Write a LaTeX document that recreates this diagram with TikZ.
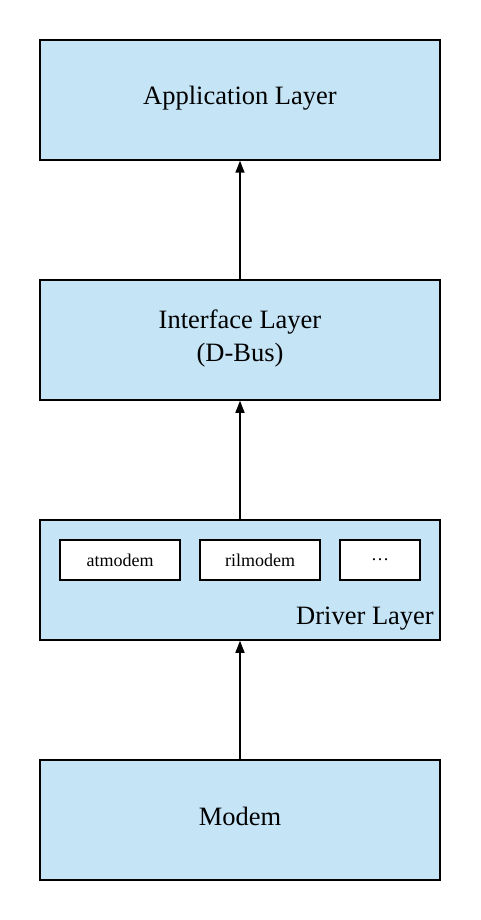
\documentclass[tikz,border=0pt]{standalone}
\usepackage{fontspec}
\setmainfont{Liberation Serif}
\usetikzlibrary{arrows.meta}
\definecolor{ofLayer}{HTML}{C5E4F6}
\definecolor{ofInk}{HTML}{000000}
\newcommand{\OFType}{\fontsize{26.5}{33}\selectfont}
\newcommand{\OFSmall}{\fontsize{18}{21}\selectfont}
\tikzset{of/base/.style={x=1pt,y=1pt,line cap=butt,line join=miter,
  every node/.style={font=\OFType,text=ofInk}},
  of/arrow/.style={-{Triangle[length=12pt,width=9pt]},draw=ofInk,line width=1.5pt},
  of/layer/.style={draw=ofInk,fill=ofLayer,line width=1.5pt,minimum width=400pt,
    minimum height=120pt,inner sep=0pt,align=center},
  of/driver/.style={draw=ofInk,fill=white,line width=1.5pt,minimum height=40pt,
    inner sep=0pt,font=\OFSmall}}

\begin{document}
\begin{tikzpicture}[of/base,y=-1pt]
  \useasboundingbox (0,0) rectangle (480,920);
  \node[of/layer] (app) at (240,100) {};
  \node[of/layer] (iface) at (240,340) {};
  \node[of/layer] (drv) at (240,580) {};
  \node[of/layer] (modem) at (240,820) {};
  % layer captions
  \node[anchor=base,inner sep=0pt] (applbl) at (240,105) {Application Layer};
  \node[inner sep=0pt,align=center] (ifacelbl) at (240,338) {Interface Layer\\(D-Bus)};
  \node[anchor=base,inner sep=0pt] (modemlbl) at (240,825) {Modem};
  \node[anchor=base east,inner sep=0pt] (drvlbl) at (434,624) {Driver Layer};
  % drivers inside the driver layer
  \foreach \x/\w/\name/\txt in {120/120/at/atmodem,260/120/ril/rilmodem,380/80/more/\dots}{
    \node[of/driver,minimum width=\w pt] (\name) at (\x,560) {\txt};}
  \draw[of/arrow] (modem.north)--(drv.south);
  \draw[of/arrow] (drv.north)--(iface.south);
  \draw[of/arrow] (iface.north)--(app.south);
\end{tikzpicture}
\end{document}
